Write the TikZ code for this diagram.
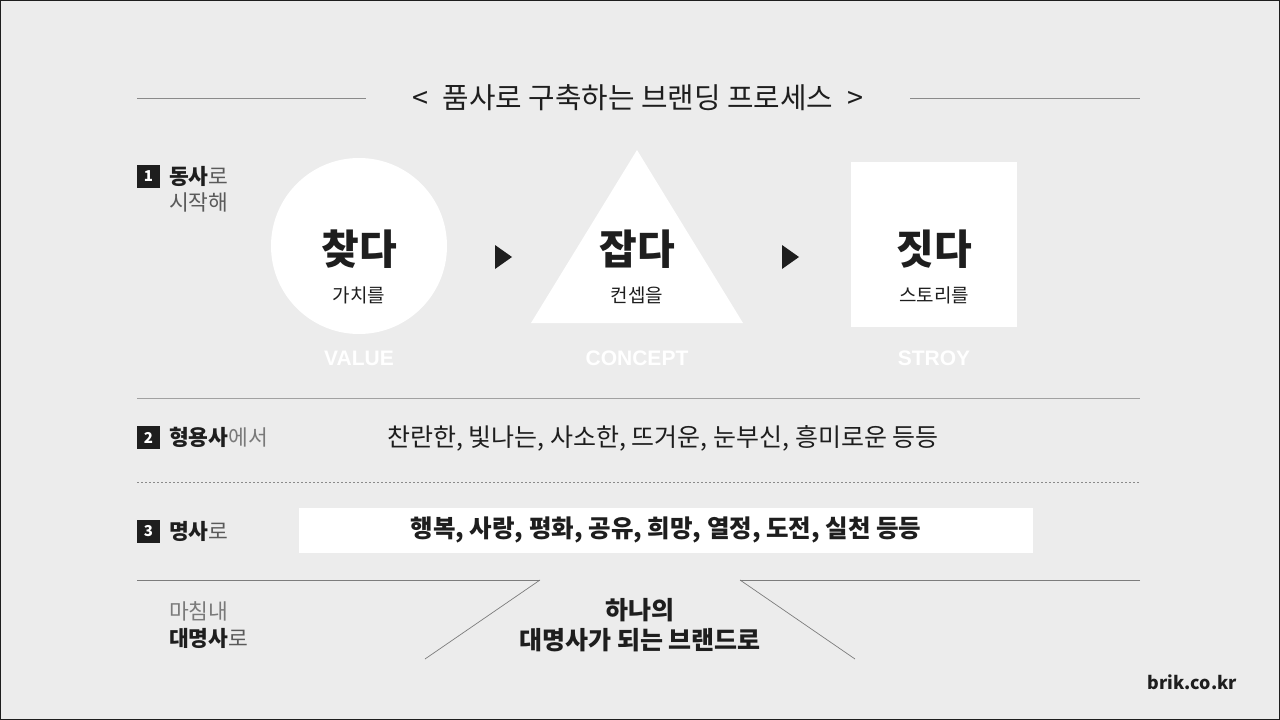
\documentclass[tikz,border=0pt]{standalone}
\usepackage{fontspec}
\setmainfont{Noto Sans CJK KR}
\newfontfamily\lat{Liberation Sans}
\usetikzlibrary{calc}
\definecolor{bg}{HTML}{ECECEC}
\definecolor{ink}{HTML}{1E1E1E}
\definecolor{soft}{HTML}{5A5A5A}
\definecolor{lightsoft}{HTML}{7A7A7A}
\definecolor{rule}{HTML}{8A8A8A}
\tikzset{
  every node/.style={inner sep=0pt, text=ink},
  numbox/.style={fill=ink, minimum size=23pt, text=white, font=\bfseries\fontsize{15}{15}\selectfont},
  lbl/.style={anchor=west, font=\fontsize{21.5}{24}\selectfont},
  bigword/.style={font=\bfseries\fontsize{41}{44}\selectfont},
  subword/.style={font=\fontsize{19}{22}\selectfont},
  engword/.style={text=white, font=\lat\bfseries\fontsize{21}{24}\selectfont},
  arrowtri/.style={fill=ink, draw=none},
  rulel/.style={draw=rule, line width=0.9pt},
  shapefill/.style={fill=white, draw=none},
}
\begin{document}
\begin{tikzpicture}[x=1pt,y=-1pt]
\useasboundingbox (0,0) rectangle (1280,720);
\fill[bg] (0,0) rectangle (1280,720);
\draw[ink, line width=1.2pt] (0.6,0.6) rectangle (1279.4,719.4);

% title
\node (title) at (638,98) {\fontsize{28.8}{32}\selectfont <\enspace 품사로 구축하는 브랜딩 프로세스\enspace >};
\coordinate (tl1) at (137,98); \coordinate (tl2) at (366,98);
\coordinate (tr1) at (910,98); \coordinate (tr2) at (1140,98);
\draw[rulel] (tl1) -- (tl2);
\draw[rulel] (tr1) -- (tr2);

% section 1
\node[numbox] (n1) at (148.5,176.5) {1};
\node[lbl] (s1a) at (169,176) {\textbf{동사}\textcolor{soft}{로}};
\node[lbl] (s1b) at (169,202) {\textcolor{soft}{시작해}};

\fill[shapefill] (359,246) circle (88);
\coordinate (circ) at (359,246);
\fill[shapefill] (637,150) -- (743,323) -- (531,323) -- cycle;
\fill[shapefill] (851,162) rectangle (1017,327);

\node[bigword] (w1) at (359,249) {찾다};
\node[subword] (d1) at (359,295) {가치를};
\node[bigword] (w2) at (637,249) {잡다};
\node[subword] (d2) at (637,295) {컨셉을};
\node[bigword] (w3) at (934,249) {짓다};
\node[subword] (d3) at (934,295) {스토리를};

\node[engword] (e1) at (359,358) {VALUE};
\node[engword] (e2) at (637,358) {CONCEPT};
\node[engword] (e3) at (934,358) {STROY};

\fill[arrowtri] (495,245) -- (512,257) -- (495,269) -- cycle;
\fill[arrowtri] (782,245) -- (799,257) -- (782,269) -- cycle;

\coordinate (r1a) at (137,398); \coordinate (r1b) at (1140,398);
\draw[draw=rule!80, line width=0.9pt] (r1a) -- (r1b);

% section 2
\node[numbox] (n2) at (148.5,437.5) {2};
\node[lbl] (s2) at (169,437) {\textbf{형용사}\textcolor{lightsoft}{에서}};
\node (adj) at (663,438) {\fontsize{25}{28}\selectfont 찬란한, 빛나는, 사소한, 뜨거운, 눈부신, 흥미로운 등등};

\coordinate (r2a) at (137,482); \coordinate (r2b) at (1140,482);
\draw[draw=rule, line width=0.9pt, dash pattern=on 2pt off 2pt] (r2a) -- (r2b);

% section 3
\node[numbox] (n3) at (148.5,531.5) {3};
\node[lbl] (s3) at (169,531) {\textbf{명사}\textcolor{soft}{로}};
\fill[shapefill] (299,508) rectangle (1033,553);
\node (noun) at (666,530) {\fontsize{24.5}{28}\selectfont\bfseries 행복, 사랑, 평화, 공유, 희망, 열정, 도전, 실천 등등};

% final
\coordinate (fa) at (137,580); \coordinate (fb) at (540,580); \coordinate (fc) at (425,659);
\coordinate (fd) at (1140,580); \coordinate (fe) at (740,580); \coordinate (ff) at (855,659);
\draw[draw=rule!90!black, line width=0.9pt] (fa) -- (fb);
\draw[draw=rule!90!black, line width=0.7pt] (fb) -- (fc);
\draw[draw=rule!90!black, line width=0.9pt] (fd) -- (fe);
\draw[draw=rule!90!black, line width=0.7pt] (fe) -- (ff);

\node[lbl] (s4a) at (169,611) {\textcolor{lightsoft}{마침내}};
\node[lbl] (s4b) at (169,638) {\textbf{대명사}\textcolor{soft}{로}};

\node (f1) at (640,610) {\fontsize{25}{28}\selectfont\bfseries 하나의};
\node (f2) at (640,640) {\fontsize{25}{28}\selectfont\bfseries 대명사가 되는 브랜드로};

\node[anchor=east] (brand) at (1237,682) {\fontsize{17.8}{21}\selectfont\bfseries brik.co.kr};
\end{tikzpicture}
\end{document}
